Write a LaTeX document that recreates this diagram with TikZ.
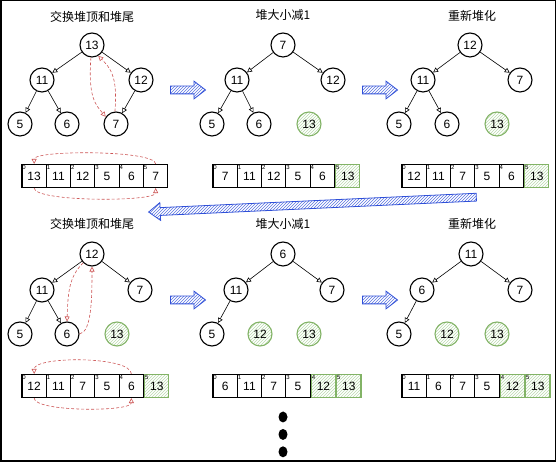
\documentclass[tikz,border=0pt]{standalone}
\usepackage{fontspec}
\setmainfont{Liberation Sans}
\newfontfamily\cjk{Noto Sans CJK SC}
\usetikzlibrary{arrows.meta,shapes.arrows,shapes.geometric,patterns,positioning}
\definecolor{sketchgreen}{HTML}{82B366}
\definecolor{hatchgreen}{HTML}{BBD9AE}
\definecolor{swapred}{HTML}{CC5555}
\definecolor{arrowblue}{HTML}{3050D8}
\tikzset{heap/.style={circle,draw=black,line width=1.1pt,minimum size=24pt,inner sep=0pt,font=\fontsize{12}{12}\selectfont},
		sorted/.style={heap,draw=sketchgreen,pattern=north east lines,pattern color=hatchgreen},
		cell/.style={rectangle,draw=black,line width=1.1pt,minimum width=24.3pt,minimum height=23pt,inner sep=0pt,font=\fontsize{12}{12}\selectfont},
		sortedcell/.style={cell,draw=sketchgreen,pattern=north east lines,pattern color=hatchgreen},
		idx/.style={anchor=north west,inner sep=0.8pt,font=\fontsize{6}{6}\selectfont},
		link/.style={-{Triangle[open,length=5pt,width=5pt]},semithick},
		swap/.style={-{Triangle[open,length=5pt,width=5pt]},densely dashed,swapred,semithick},
		title/.style={font=\cjk\fontsize{12}{12}\selectfont},
		goon/.style={single arrow,draw=arrowblue,thick,pattern=north east lines,pattern color=arrowblue!80,inner sep=3.5pt,single arrow head extend=5pt,single arrow tip angle=75,minimum height=35pt},
		dot/.style={ellipse,fill=black,minimum width=9pt,minimum height=11pt,inner sep=0pt}}

\begin{document}
\begin{tikzpicture}[x=1pt,y=1pt]
	\useasboundingbox (0,0) rectangle (556,462);
	\draw[line width=1.5pt] (0.75,0.75) rectangle (555.25,461.25);

	% row 1: swap top and tail
	\node[title] (h1) at (92,445) {交换堆顶和堆尾};
	\node[heap] (t1a) at (92,417) {13};
	\node[heap] (t1b) at (42,382) {11};
	\node[heap] (t1c) at (141,382) {12};
	\node[heap] (t1d) at (20,338) {5};
	\node[heap] (t1e) at (67,338) {6};
	\node[heap] (t1f) at (116,338) {7};
	\draw[link] (t1a) -- (t1b);
	\draw[link] (t1a) -- (t1c);
	\draw[link] (t1b) -- (t1d);
	\draw[link] (t1b) -- (t1e);
	\draw[link] (t1c) -- (t1f);
	\draw[swap] (t1a.265) .. controls +(-3,-40) and +(-10,12) .. (t1f.145);
	\draw[swap] (t1f.95) .. controls +(3,35) and +(12,-12) .. (t1a.300);

	\node[goon] (ar1) at (185.5,372) {};

	% row 1: heap size minus one
	\node[title] (h2) at (283,447) {堆大小减1};
	\node[heap] (t2a) at (283,417) {7};
	\node[heap] (t2b) at (237,382) {11};
	\node[heap] (t2c) at (333,382) {12};
	\node[heap] (t2d) at (212,338) {5};
	\node[heap] (t2e) at (259,338) {6};
	\node[sorted] (t2f) at (309,338) {13};
	\draw[link] (t2a) -- (t2b);
	\draw[link] (t2a) -- (t2c);
	\draw[link] (t2b) -- (t2d);
	\draw[link] (t2b) -- (t2e);

	\node[goon] (ar2) at (377.5,372) {};

	% row 1: heapify again
	\node[title] (h3) at (472,446) {重新堆化};
	\node[heap] (t3a) at (470,417) {12};
	\node[heap] (t3b) at (423,382) {11};
	\node[heap] (t3c) at (520,382) {7};
	\node[heap] (t3d) at (399,338) {5};
	\node[heap] (t3e) at (447,338) {6};
	\node[sorted] (t3f) at (497,338) {13};
	\draw[link] (t3a) -- (t3b);
	\draw[link] (t3a) -- (t3c);
	\draw[link] (t3b) -- (t3d);
	\draw[link] (t3b) -- (t3e);

	% row 1 arrays
	\foreach \v [count=\i from 0] in {13,11,12,5,6,7}{
		\node[cell] (a1-\i) at (34.15+24.3*\i,286) {\v};
		\node[idx] (a1-\i-n) at (a1-\i.north west) {\i};
	}
	\draw[swap] (a1-5.north) .. controls +(0,14) and +(0,14) .. (a1-0.north);
	\draw[swap] (a1-0.south) .. controls +(0,-14) and +(0,-14) .. (a1-5.south);

	\foreach \v [count=\i from 0] in {7,11,12,5,6}{
		\node[cell] (a2-\i) at (225.15+24.3*\i,286) {\v};
		\node[idx] (a2-\i-n) at (a2-\i.north west) {\i};
	}
	\node[sortedcell] (a2-5) [right=0pt of a2-4] {13};
	\node[idx] (a2-5-n) at (a2-5.north west) {5};

	\foreach \v [count=\i from 0] in {12,11,7,5,6}{
		\node[cell] (a3-\i) at (414.15+24.3*\i,286) {\v};
		\node[idx] (a3-\i-n) at (a3-\i.north west) {\i};
	}
	\node[sortedcell] (a3-5) [right=0pt of a3-4] {13};
	\node[idx] (a3-5-n) at (a3-5.north west) {5};

	\node[goon,minimum height=328pt,rotate=182.6] (back) at (315,257.5) {};

	% row 2: swap top and tail
	\node[title] (h4) at (92,238) {交换堆顶和堆尾};
	\node[heap] (t4a) at (92,208) {12};
	\node[heap] (t4b) at (42,172) {11};
	\node[heap] (t4c) at (140,172) {7};
	\node[heap] (t4d) at (20,128) {5};
	\node[heap] (t4e) at (67,128) {6};
	\node[sorted] (t4f) at (117,128) {13};
	\draw[link] (t4a) -- (t4b);
	\draw[link] (t4a) -- (t4c);
	\draw[link] (t4b) -- (t4d);
	\draw[link] (t4b) -- (t4e);
	\draw[swap] (t4a.225) .. controls +(-14,-14) and +(1,30) .. (t4e.north);
	\draw[swap] (t4e.east) .. controls +(12,2) and +(0,-32) .. (t4a.south);

	\node[goon] (ar3) at (185.5,162) {};

	% row 2: heap size minus one
	\node[title] (h5) at (283,238) {堆大小减1};
	\node[heap] (t5a) at (283,208) {6};
	\node[heap] (t5b) at (236,172) {11};
	\node[heap] (t5c) at (332,172) {7};
	\node[heap] (t5d) at (212,128) {5};
	\node[sorted] (t5e) at (260,128) {12};
	\node[sorted] (t5f) at (309,128) {13};
	\draw[link] (t5a) -- (t5b);
	\draw[link] (t5a) -- (t5c);
	\draw[link] (t5b) -- (t5d);

	\node[goon] (ar4) at (377.5,162) {};

	% row 2: heapify again
	\node[title] (h6) at (472,238) {重新堆化};
	\node[heap] (t6a) at (471,208) {11};
	\node[heap] (t6b) at (422,172) {6};
	\node[heap] (t6c) at (520,172) {7};
	\node[heap] (t6d) at (399,128) {5};
	\node[sorted] (t6e) at (447,128) {12};
	\node[sorted] (t6f) at (497,128) {13};
	\draw[link] (t6a) -- (t6b);
	\draw[link] (t6a) -- (t6c);
	\draw[link] (t6b) -- (t6d);

	% row 2 arrays
	\foreach \v [count=\i from 0] in {12,11,7,5,6}{
		\node[cell] (a4-\i) at (34.15+24.3*\i,76) {\v};
		\node[idx] (a4-\i-n) at (a4-\i.north west) {\i};
	}
	\node[sortedcell] (a4-5) [right=0pt of a4-4] {13};
	\node[idx] (a4-5-n) at (a4-5.north west) {5};
	\draw[swap] (a4-4.north) .. controls +(0,18) and +(0,18) .. (a4-0.north);
	\draw[swap] (a4-0.south) .. controls +(0,-14) and +(0,-14) .. (a4-4.south);

	\foreach \v [count=\i from 0] in {6,11,7,5}{
		\node[cell] (a5-\i) at (225.15+24.3*\i,76) {\v};
		\node[idx] (a5-\i-n) at (a5-\i.north west) {\i};
	}
	\node[sortedcell] (a5-4) [right=0pt of a5-3] {12};
	\node[idx] (a5-4-n) at (a5-4.north west) {4};
	\node[sortedcell] (a5-5) [right=0pt of a5-4] {13};
	\node[idx] (a5-5-n) at (a5-5.north west) {5};

	\foreach \v [count=\i from 0] in {11,6,7,5}{
		\node[cell] (a6-\i) at (414.15+24.3*\i,76) {\v};
		\node[idx] (a6-\i-n) at (a6-\i.north west) {\i};
	}
	\node[sortedcell] (a6-4) [right=0pt of a6-3] {12};
	\node[idx] (a6-4-n) at (a6-4.north west) {4};
	\node[sortedcell] (a6-5) [right=0pt of a6-4] {13};
	\node[idx] (a6-5-n) at (a6-5.north west) {5};

	% and so on
	\node[dot] (d1) at (283,45) {};
	\node[dot] (d2) [below=6pt of d1] {};
	\node[dot] (d3) [below=6pt of d2] {};
\end{tikzpicture}
\end{document}
